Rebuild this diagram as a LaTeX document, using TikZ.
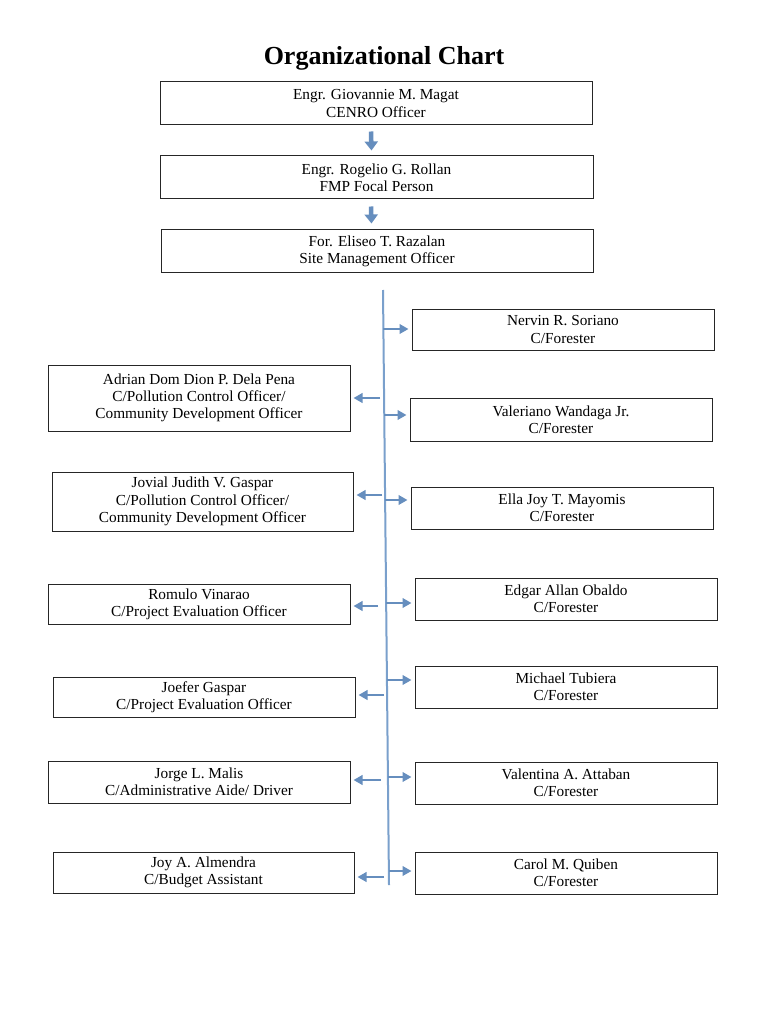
\documentclass[tikz,border=0pt]{standalone}
\usepackage{fontspec}
\setmainfont{Liberation Serif}
\usetikzlibrary{arrows.meta}
\definecolor{arrblue}{RGB}{102,142,190}
\definecolor{lineblue}{RGB}{122,160,204}
\begin{document}
\begin{tikzpicture}[x=1pt,y=-1pt,
  box/.style={draw=black!85,line width=1pt,rectangle,align=center,inner sep=0pt,
    font=\fontsize{15.3}{17.2}\selectfont},
  arr/.style={draw=arrblue,line width=2.6pt,-{Triangle[length=9pt,width=9.5pt]}},
  bigarr/.style={draw=arrblue,line width=4.5pt,-{Triangle[length=9pt,width=13pt]}}]
\useasboundingbox (0,0) rectangle (768,1024);
\fill[white] (0,0) rectangle (768,1024);
\node[font=\bfseries\fontsize{26}{30}\selectfont] (title) at (384,58) {Organizational Chart};
% top boxes
\node[box,minimum width=432pt,minimum height=43pt] (b1) at (376,103.5) {Engr. Giovannie M. Magat\\CENRO Officer};
\node[box,minimum width=433pt,minimum height=43pt] (b2) at (376.5,177.5) {Engr. Rogelio G. Rollan\\FMP Focal Person};
\node[box,minimum width=432pt,minimum height=42pt] (b3) at (377,251) {For. Eliseo T. Razalan\\Site Management Officer};
\draw[bigarr] ([xshift=-5pt,yshift=-6pt]b1.south) -- ([xshift=-5pt,yshift=5pt]b2.north);
\draw[bigarr] ([xshift=-5.5pt,yshift=-7pt]b2.south) -- ([xshift=-5.5pt,yshift=6pt]b3.north);
% vertical line
\coordinate (vt) at (383,290);
\coordinate (vb) at (389,885);
\draw[lineblue,line width=2pt] (vt) -- (vb);
% right boxes
\node[box,minimum width=302pt,minimum height=41pt] (r1) at (563,329.5) {Nervin R. Soriano\\C/Forester};
\node[box,minimum width=302pt,minimum height=43pt] (r2) at (561,419.5) {Valeriano Wandaga Jr.\\C/Forester};
\node[box,minimum width=302pt,minimum height=42pt] (r3) at (562,508) {Ella Joy T. Mayomis\\C/Forester};
\node[box,minimum width=302pt,minimum height=42pt] (r4) at (566,599) {Edgar Allan Obaldo\\C/Forester};
\node[box,minimum width=302pt,minimum height=42pt] (r5) at (566,687) {Michael Tubiera\\C/Forester};
\node[box,minimum width=302pt,minimum height=42pt] (r6) at (566,783) {Valentina A. Attaban\\C/Forester};
\node[box,minimum width=302pt,minimum height=42pt] (r7) at (566,873) {Carol M. Quiben\\C/Forester};
% left boxes
\node[box,minimum width=302pt,minimum height=66pt] (l1) at (199,398) {Adrian Dom Dion P. Dela Pena\\C/Pollution Control Officer/\\Community Development Officer};
\node[box,minimum width=301pt,minimum height=59pt] (l2) at (202.5,501.5) {Jovial Judith V. Gaspar\\C/Pollution Control Officer/\\Community Development Officer};
\node[box,minimum width=302pt,minimum height=40pt] (l3) at (199,604) {Romulo Vinarao\\C/Project Evaluation Officer};
\node[box,minimum width=302pt,minimum height=40pt] (l4) at (204,697) {Joefer Gaspar\\C/Project Evaluation Officer};
\node[box,minimum width=302pt,minimum height=42pt] (l5) at (199,782) {Jorge L. Malis\\C/Administrative Aide/ Driver};
\node[box,minimum width=301pt,minimum height=41pt] (l6) at (203.5,872.5) {Joy A. Almendra\\C/Budget Assistant};
% connection points on the line
\coordinate (pr1) at (383.4,329);
\coordinate (pr2) at (384.3,415);
\coordinate (pr3) at (385.1,500);
\coordinate (pr4) at (386.2,603);
\coordinate (pr5) at (386.9,680);
\coordinate (pr6) at (387.9,777);
\coordinate (pr7) at (388.9,871);
\coordinate (pl1) at (380,398);
\coordinate (pl2) at (382,495);
\coordinate (pl3) at (378,606);
\coordinate (pl4) at (384,695);
\coordinate (pl5) at (381,780);
\coordinate (pl6) at (384,877);
\foreach \i in {1,...,7}{
  \draw[arr] (pr\i) -- ([xshift=-3pt]pr\i -| r\i.west);
}
\foreach \i in {1,...,6}{
  \draw[arr] (pl\i) -- ([xshift=3pt]pl\i -| l\i.east);
}
\end{tikzpicture}
\end{document}
